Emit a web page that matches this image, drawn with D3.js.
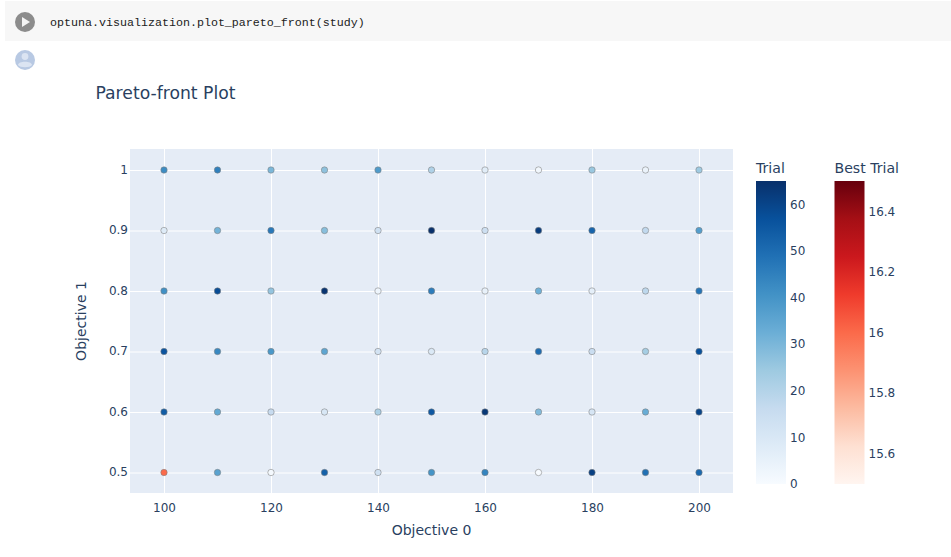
<!DOCTYPE html>
<html>
<head>
<meta charset="utf-8">
<script src="https://cdn.jsdelivr.net/npm/d3@7/dist/d3.min.js"></script>
<style>
html,body{margin:0;padding:0;background:#fff;overflow:hidden}
svg{display:block}
text{font-family:"DejaVu Sans",Verdana,sans-serif;fill:#2a3f5f}
</style>
</head>
<body>
<svg id="c" width="951" height="557"></svg>
<script>
const objective0 = [100,110,120,130,140,150,160,170,180,190,200];
const objective1 = [1,0.9,0.8,0.7,0.6,0.5];
const xTicks = [100,120,140,160,180,200];
const yTicks = [0.5,0.6,0.7,0.8,0.9,1];
const trialRow1   = [42,45,30,27,38,21,7,2,25,4,24];
const trialRow09  = [8,31,47,28,13,65,14,62,52,17,37];
const trialRow08  = [41,58,26,64,3,46,5,32,6,18,48];
const trialRow07  = [56,43,39,35,12,9,19,50,15,23,57];
const trialRow06  = [54,34,16,10,22,55,63,29,11,33,60];
const trialRow05  = [null,36,1,53,13,40,44,0,61,49,51];
const trialRows = [trialRow1,trialRow09,trialRow08,trialRow07,trialRow06,trialRow05];
const bestTrial = [{x:100,y:0.5,value:16}];
const trialTicks = [0,10,20,30,40,50,60];
const bestTicks = [15.6,15.8,16,16.2,16.4];
const trialLabels = ["0","10","20","30","40","50","60"];
const bestLabels = ["15.6","15.8","16","16.2","16.4"];
const blues = ["rgb(247,251,255)","rgb(222,235,247)","rgb(198,219,239)","rgb(158,202,225)","rgb(107,174,214)","rgb(66,146,198)","rgb(33,113,181)","rgb(8,81,156)","rgb(8,48,107)"];
const reds = ["rgb(255,245,240)","rgb(254,224,210)","rgb(252,187,161)","rgb(252,146,114)","rgb(251,106,74)","rgb(239,59,44)","rgb(203,24,29)","rgb(165,15,21)","rgb(103,0,13)"];
const trialDomain = [0,65];
const bestDomain = [15.5,16.5];

const W = 951, H = 557;
const plot = {l:130,r:733,t:149,b:493};
const svg = d3.select("#c");

// notebook chrome
svg.append("rect").attr("x",5).attr("y",1).attr("width",W-5).attr("height",40).attr("fill","#f7f7f7");
svg.append("circle").attr("cx",25).attr("cy",22).attr("r",10).attr("fill","#8c8c8c");
svg.append("path").attr("d","M22 17L30 22L22 27Z").attr("fill","#f4f4f4");
svg.append("text").attr("x",50).attr("y",25.5)
  .style("font-family",'"Liberation Mono",monospace').style("font-size","11.67px").style("fill","#212121")
  .text("optuna.visualization.plot_pareto_front(study)");
svg.append("circle").attr("cx",25).attr("cy",60).attr("r",10).attr("fill","#b8c9e3");
svg.append("circle").attr("cx",25).attr("cy",56.5).attr("r",3.4).attr("fill","#dbe4f2");
svg.append("path").attr("d","M18 65C18 60.5 32 60.5 32 65C30 68 20 68 18 65Z").attr("fill","#dbe4f2");

// title
svg.append("text").attr("x",95.5).attr("y",98.5).style("font-size","17.2px").text("Pareto-front Plot");

// plot
svg.append("rect").attr("x",plot.l).attr("y",plot.t).attr("width",plot.r-plot.l).attr("height",plot.b-plot.t).attr("fill","#e5ecf6");
const x = d3.scaleLinear().domain([100,200]).range([164,699]);
const y = d3.scaleLinear().domain([0.5,1]).range([472.5,170]);

const xAxis = svg.append("g").attr("transform",`translate(0,${plot.b})`)
  .call(d3.axisBottom(x).tickValues(xTicks).tickFormat(d3.format("d")).tickSize(-(plot.b-plot.t)).tickPadding(0));
const yAxis = svg.append("g").attr("transform",`translate(${plot.l},0)`)
  .call(d3.axisLeft(y).tickValues(yTicks).tickFormat(d=>String(d)).tickSize(-(plot.r-plot.l)).tickPadding(2));
[xAxis,yAxis].forEach(a=>{
  a.select(".domain").remove();
  a.selectAll(".tick line").attr("stroke","#fff").attr("stroke-width",1);
  a.selectAll(".tick text").style("font-size","12px").attr("fill",null);
});
xAxis.selectAll(".tick text").attr("y",10).attr("dy","0.71em");
yAxis.selectAll(".tick text").attr("dy","0.27em");

const trialColor = d3.scaleLinear().domain(blues.map((_,i)=>trialDomain[0]+(trialDomain[1]-trialDomain[0])*i/(blues.length-1))).range(blues);
const bestColor = d3.scaleLinear().domain(reds.map((_,i)=>bestDomain[0]+(bestDomain[1]-bestDomain[0])*i/(reds.length-1))).range(reds);

const pts = [];
trialRows.forEach((row,j)=>row.forEach((v,i)=>{ if(v!==null) pts.push({x:objective0[i],y:objective1[j],v}); }));
svg.append("g").selectAll("circle").data(pts).join("circle")
  .attr("cx",d=>x(d.x)).attr("cy",d=>y(d.y)).attr("r",3.2)
  .attr("fill",d=>trialColor(d.v)).attr("stroke","#808080").attr("stroke-opacity",.7).attr("stroke-width",.8);
svg.append("g").selectAll("circle").data(bestTrial).join("circle")
  .attr("cx",d=>x(d.x)).attr("cy",d=>y(d.y)).attr("r",3.2)
  .attr("fill",d=>bestColor(d.value)).attr("stroke","#808080").attr("stroke-opacity",.7).attr("stroke-width",.8);

// axis titles
svg.append("text").attr("x",431.5).attr("y",535).attr("text-anchor","middle").style("font-size","14px").text("Objective 0");
svg.append("text").attr("transform","translate(85.5,321) rotate(-90)").attr("text-anchor","middle").style("font-size","14px").text("Objective 1");

// colorbars
const defs = svg.append("defs");
function colorbar(id,x0,title,colors,domain,ticks,labels){
  const top=181,bottom=484,w=30;
  const g = defs.append("linearGradient").attr("id",id).attr("x1",0).attr("x2",0).attr("y1",1).attr("y2",0);
  colors.forEach((c,i)=>g.append("stop").attr("offset",i/(colors.length-1)).attr("stop-color",c));
  svg.append("rect").attr("x",x0).attr("y",top).attr("width",w).attr("height",bottom-top).attr("fill",`url(#${id})`);
  const s = d3.scaleLinear().domain(domain).range([bottom,top]);
  const a = svg.append("g").attr("transform",`translate(${x0+w},0)`)
    .call(d3.axisRight(s).tickValues(ticks).tickFormat((d,i)=>labels[i]).tickSize(0).tickPadding(4));
  a.select(".domain").remove();
  a.selectAll(".tick text").style("font-size","12px").attr("fill",null);
  svg.append("text").attr("x",x0).attr("y",173).style("font-size","14.1px").text(title);
}
colorbar("gTrial",756,"Trial",blues,trialDomain,trialTicks,trialLabels);
colorbar("gBest",834.5,"Best Trial",reds,bestDomain,bestTicks,bestLabels);
</script>
</body>
</html>
